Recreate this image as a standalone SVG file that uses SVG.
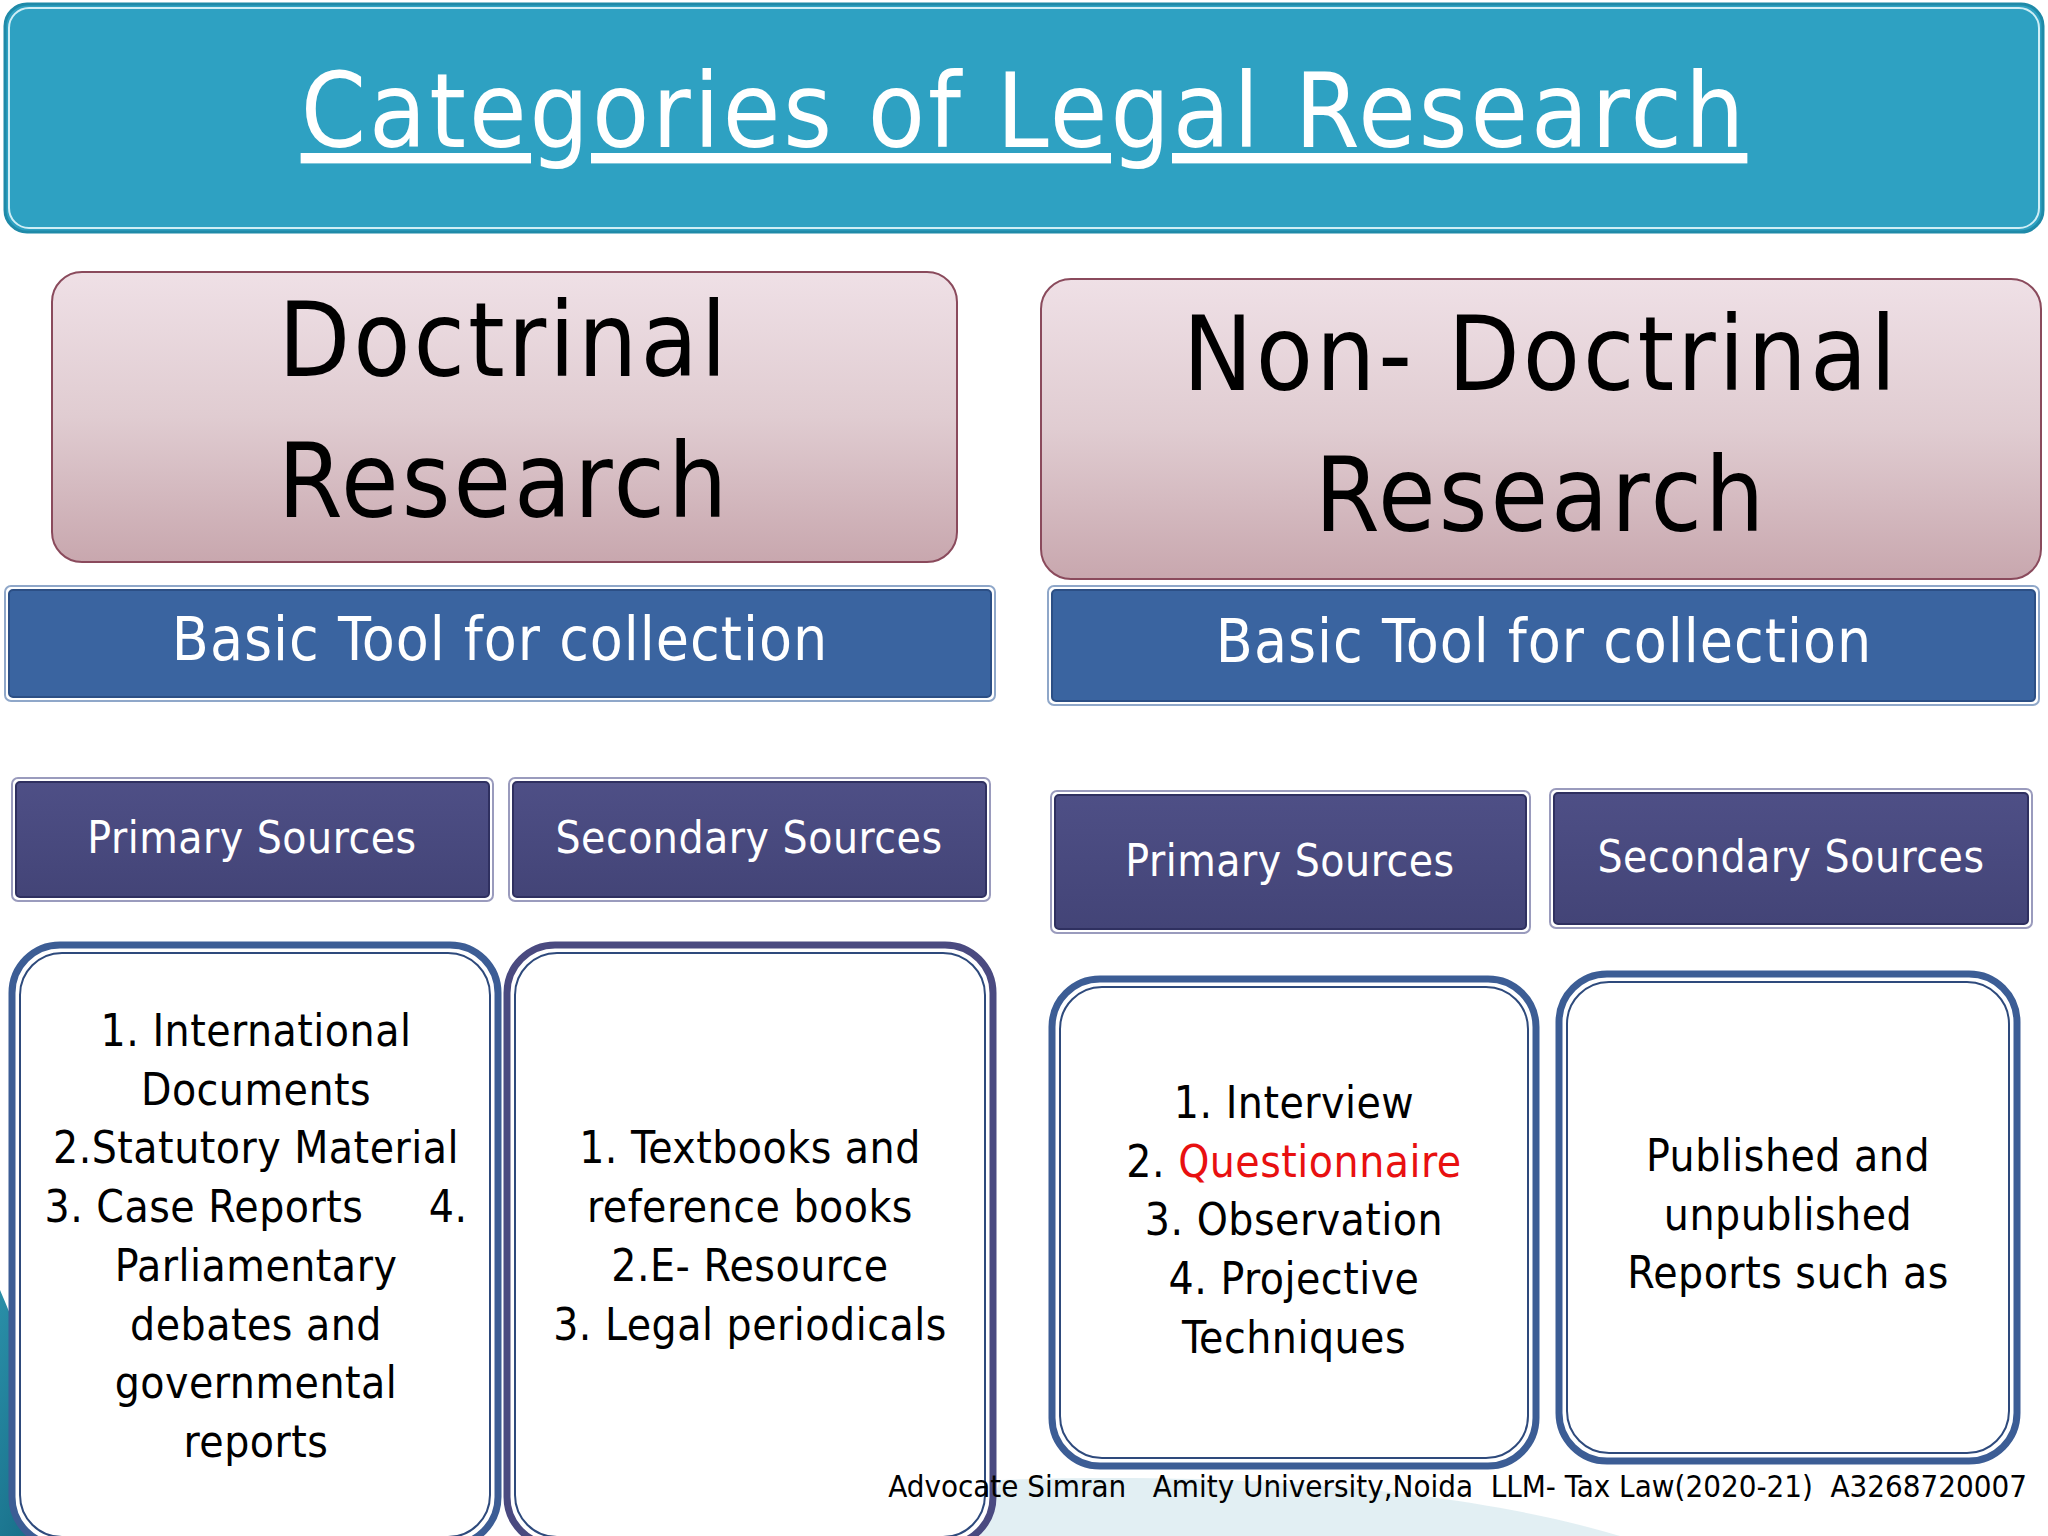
<svg xmlns="http://www.w3.org/2000/svg" width="2048" height="1536" viewBox="0 0 2048 1536">
<defs>
<linearGradient id="pink" x1="0" y1="0" x2="0" y2="1"><stop offset="0" stop-color="#efe0e6"/><stop offset="0.5" stop-color="#e0ccd1"/><stop offset="1" stop-color="#c8a7ae"/></linearGradient>
<linearGradient id="navy" x1="0" y1="0" x2="0" y2="1"><stop offset="0" stop-color="#4e4f86"/><stop offset="1" stop-color="#434477"/></linearGradient>
<linearGradient id="deco" x1="0" y1="0" x2="1" y2="1"><stop offset="0" stop-color="#2a8fa8"/><stop offset="1" stop-color="#0f5f7a"/></linearGradient>
<style>
text{font-family:"DejaVu Sans Condensed","DejaVu Sans",sans-serif;text-anchor:middle}
.big{font-size:104px;fill:#000;letter-spacing:3px}
.tool{font-size:60px;fill:#fff;letter-spacing:1px}
.src{font-size:44px;fill:#fff;letter-spacing:0.5px}
.body{font-size:44px;fill:#000;letter-spacing:0.5px}
.pinkbox{fill:url(#pink);stroke:#8a4a5c;stroke-width:2}
.toolbox{fill:#3a64a0;stroke:#2c4f85;stroke-width:2}
.toolout{fill:none;stroke:#8fa7c9;stroke-width:2}
.srcbox{fill:url(#navy);stroke:#2f3060;stroke-width:2}
.srcout{fill:none;stroke:#9a9bbd;stroke-width:2}
.cbox{fill:#fff;stroke:#3c5d95;stroke-width:7}
.cin{fill:none;stroke:#2e4a7c;stroke-width:2}
</style>
</defs>
<rect width="2048" height="1536" fill="#fff"/>
<path d="M0 1290 C30 1360 60 1450 90 1536 L0 1536 Z" fill="url(#deco)"/>
<path d="M1000 1480 C1300 1470 1500 1500 1620 1536 L980 1536 Z" fill="#d6e8ee" opacity="0.7"/>
<g id="title">
<rect x="5" y="4" width="2038" height="228" rx="22" fill="#2ea1c2" stroke="#1f8aa8" stroke-width="3"/>
<rect x="9" y="8" width="2030" height="220" rx="20" fill="none" stroke="#cfeef6" stroke-width="2"/>
<text x="1024" y="147" style="font-size:104px;fill:#fff;letter-spacing:3px" text-decoration="underline">Categories of Legal Research</text>
</g>
<g id="doctrinal">
<rect x="52" y="272" width="905" height="290" rx="30" class="pinkbox"/>
<text x="504" y="376" class="big">Doctrinal</text>
<text x="504" y="517" class="big">Research</text>
</g>
<g id="nondoctrinal">
<rect x="1041" y="279" width="1000" height="300" rx="30" class="pinkbox"/>
<text x="1541" y="390" class="big">Non- Doctrinal</text>
<text x="1541" y="531" class="big">Research</text>
</g>
<g id="tool-left">
<rect x="5" y="586" width="990" height="115" rx="6" class="toolout"/>
<rect x="9" y="590" width="982" height="107" rx="4" class="toolbox"/>
<text x="500" y="660" class="tool">Basic Tool for collection</text>
</g>
<g id="tool-right">
<rect x="1048" y="586" width="991" height="119" rx="6" class="toolout"/>
<rect x="1052" y="590" width="983" height="111" rx="4" class="toolbox"/>
<text x="1544" y="662" class="tool">Basic Tool for collection</text>
</g>
<g id="primary-left">
<rect x="12" y="778" width="481" height="123" rx="6" class="srcout"/>
<rect x="16" y="782" width="473" height="115" rx="4" class="srcbox"/>
<text x="252" y="853" class="src">Primary Sources</text>
</g>
<g id="secondary-left">
<rect x="509" y="778" width="481" height="123" rx="6" class="srcout"/>
<rect x="513" y="782" width="473" height="115" rx="4" class="srcbox"/>
<text x="749" y="853" class="src">Secondary Sources</text>
</g>
<g id="primary-right">
<rect x="1051" y="791" width="479" height="142" rx="6" class="srcout"/>
<rect x="1055" y="795" width="471" height="134" rx="4" class="srcbox"/>
<text x="1290" y="876" class="src">Primary Sources</text>
</g>
<g id="secondary-right">
<rect x="1550" y="789" width="482" height="139" rx="6" class="srcout"/>
<rect x="1554" y="793" width="474" height="131" rx="4" class="srcbox"/>
<text x="1791" y="872" class="src">Secondary Sources</text>
</g>
<g id="content-left1">
<rect x="12" y="945" width="486" height="600" rx="48" class="cbox"/>
<rect x="20" y="953" width="470" height="584" rx="42" class="cin"/>
<text class="body" x="256" y="1046">1. International</text>
<text class="body" x="256" y="1105">Documents</text>
<text class="body" x="256" y="1163">2.Statutory Material</text>
<text class="body" x="256" y="1222" xml:space="preserve">3. Case Reports     4.</text>
<text class="body" x="256" y="1281">Parliamentary</text>
<text class="body" x="256" y="1340">debates and</text>
<text class="body" x="256" y="1398">governmental</text>
<text class="body" x="256" y="1457">reports</text>
</g>
<g id="content-left2">
<rect x="507" y="945" width="486" height="600" rx="48" class="cbox" style="stroke:#4a4a80"/>
<rect x="515" y="953" width="470" height="584" rx="42" class="cin"/>
<text class="body" x="750" y="1163">1. Textbooks and</text>
<text class="body" x="750" y="1222">reference books</text>
<text class="body" x="750" y="1281">2.E- Resource</text>
<text class="body" x="750" y="1340">3. Legal periodicals</text>
</g>
<g id="content-right1">
<rect x="1052" y="979" width="484" height="487" rx="48" class="cbox"/>
<rect x="1060" y="987" width="468" height="471" rx="42" class="cin"/>
<text class="body" x="1294" y="1118">1. Interview</text>
<text class="body" x="1294" y="1177">2. <tspan fill="#e81010">Questionnaire</tspan></text>
<text class="body" x="1294" y="1235">3. Observation</text>
<text class="body" x="1294" y="1294">4. Projective</text>
<text class="body" x="1294" y="1353">Techniques</text>
</g>
<g id="content-right2">
<rect x="1559" y="974" width="458" height="487" rx="48" class="cbox"/>
<rect x="1567" y="982" width="442" height="471" rx="42" class="cin"/>
<text class="body" x="1788" y="1171">Published and</text>
<text class="body" x="1788" y="1230">unpublished</text>
<text class="body" x="1788" y="1288">Reports such as</text>
</g>
<g id="connectors"></g>
<text x="2027" y="1497" style="font-size:31px;fill:#000;text-anchor:end" xml:space="preserve">Advocate Simran   Amity University,Noida  LLM- Tax Law(2020-21)  A3268720007</text>
</svg>
